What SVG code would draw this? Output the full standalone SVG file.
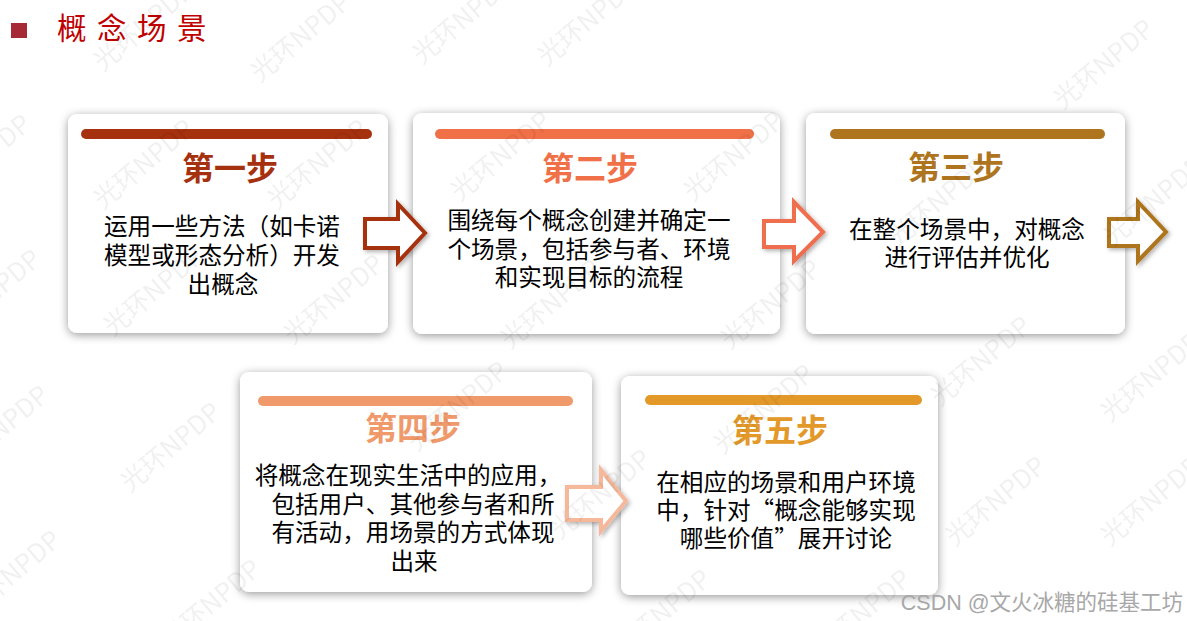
<svg xmlns="http://www.w3.org/2000/svg" width="1187" height="621" viewBox="0 0 1187 621">
<style>
.card{fill:#fff;filter:url(#sh);}
.bar{stroke-width:10;stroke-linecap:round;fill:none;}
.ttl{font-family:"Noto Sans CJK SC","Noto Sans",sans-serif;font-size:32px;font-weight:bold;text-anchor:middle;}
.body{font-family:"Noto Sans CJK SC","Noto Sans",sans-serif;font-size:23.6px;fill:#000;text-anchor:middle;}
.arr{fill:#fff;stroke-width:4;stroke-linejoin:miter;filter:url(#ash);}
.wm{font-family:"Noto Sans CJK SC","Noto Sans",sans-serif;font-size:26px;fill:#000;opacity:0.055;}
</style>
<defs>
<filter id="sh" x="-10%" y="-10%" width="120%" height="125%">
<feDropShadow dx="0" dy="2" stdDeviation="5" flood-color="#000" flood-opacity="0.4"/>
</filter>
<filter id="ash" x="-20%" y="-20%" width="150%" height="150%">
<feDropShadow dx="2" dy="2" stdDeviation="2" flood-color="#000" flood-opacity="0.3"/>
</filter>
</defs>
<rect width="1187" height="621" fill="#fff"/>
<g id="header">
<rect x="11" y="23" width="16" height="15" fill="#A52A35"/>
<text x="57 97 137 177" y="39" font-family="'Noto Sans CJK SC','Noto Sans',sans-serif" font-size="29.5" fill="#C00000">概念场景</text>
</g>
<g id="step1">
<rect class="card" x="68" y="114" width="320" height="219" rx="9"/>
<line class="bar" x1="86" y1="134" x2="367" y2="134" stroke="#A5310F"/>
<text class="ttl" x="230" y="180" fill="#A5310F">第一步</text>
<text class="body" x="222" y="235">运用一些方法（如卡诺</text>
<text class="body" x="222" y="264">模型或形态分析）开发</text>
<text class="body" x="223" y="293">出概念</text>
</g>
<g id="step2">
<rect class="card" x="413" y="113" width="367" height="221" rx="9"/>
<line class="bar" x1="440" y1="134" x2="749" y2="134" stroke="#F07048"/>
<text class="ttl" x="590" y="180" fill="#F07048">第二步</text>
<text class="body" x="589" y="229">围绕每个概念创建并确定一</text>
<text class="body" x="589" y="258">个场景，包括参与者、环境</text>
<text class="body" x="589" y="286">和实现目标的流程</text>
</g>
<g id="step3">
<rect class="card" x="806" y="113" width="319" height="221" rx="9"/>
<line class="bar" x1="835" y1="134" x2="1100" y2="134" stroke="#AE751E"/>
<text class="ttl" x="956" y="179" fill="#AE751E">第三步</text>
<text class="body" x="967" y="238">在整个场景中，对概念</text>
<text class="body" x="967" y="266">进行评估并优化</text>
</g>
<g id="step4">
<rect class="card" x="240" y="372" width="352" height="220" rx="9"/>
<line class="bar" x1="263" y1="401" x2="568" y2="401" stroke="#F0996B"/>
<text class="ttl" x="413" y="440" fill="#F0996B">第四步</text>
<text class="body" x="408" y="484">将概念在现实生活中的应用，</text>
<text class="body" x="413" y="513">包括用户、其他参与者和所</text>
<text class="body" x="413" y="541">有活动，用场景的方式体现</text>
<text class="body" x="414" y="570">出来</text>
</g>
<g id="step5">
<rect class="card" x="621" y="376" width="317" height="219" rx="9"/>
<line class="bar" x1="650" y1="400" x2="917" y2="400" stroke="#E3992A"/>
<text class="ttl" x="780" y="442" fill="#E3992A">第五步</text>
<text class="body" x="786" y="491">在相应的场景和用户环境</text>
<text class="body" x="786" y="519">中，针对“概念能够实现</text>
<text class="body" x="786" y="547">哪些价值”展开讨论</text>
</g>
<g id="connectors">
<polygon class="arr" stroke="#A5310F" points="365,219 398,219 398,204 425,233 398,262 398,248 365,248"/>
<polygon class="arr" stroke="#EE6E4E" points="764,221 794,221 794,202 823,232 794,261 794,247 764,247"/>
<polygon class="arr" stroke="#AE751E" points="1109,219 1138,219 1138,202 1166,232 1138,261 1138,246 1109,246"/>
<polygon class="arr" stroke="#F5B89A" points="567,487 601,487 601,470 626,501 601,531 601,520 567,520"/>
</g>
<g id="watermark">
<text class="wm" transform="translate(103,72) rotate(-40)">光环NPDP</text>
<text class="wm" transform="translate(260,83) rotate(-40)">光环NPDP</text>
<text class="wm" transform="translate(422,65) rotate(-40)">光环NPDP</text>
<text class="wm" transform="translate(547,67) rotate(-40)">光环NPDP</text>
<text class="wm" transform="translate(1063,110) rotate(-40)">光环NPDP</text>
<text class="wm" transform="translate(-60,205) rotate(-40)">光环NPDP</text>
<text class="wm" transform="translate(103,210) rotate(-40)">光环NPDP</text>
<text class="wm" transform="translate(277,210) rotate(-40)">光环NPDP</text>
<text class="wm" transform="translate(460,202) rotate(-40)">光环NPDP</text>
<text class="wm" transform="translate(693,202) rotate(-40)">光环NPDP</text>
<text class="wm" transform="translate(897,248) rotate(-40)">光环NPDP</text>
<text class="wm" transform="translate(1113,247) rotate(-40)">光环NPDP</text>
<text class="wm" transform="translate(-50,340) rotate(-40)">光环NPDP</text>
<text class="wm" transform="translate(113,337) rotate(-40)">光环NPDP</text>
<text class="wm" transform="translate(293,345) rotate(-40)">光环NPDP</text>
<text class="wm" transform="translate(510,350) rotate(-40)">光环NPDP</text>
<text class="wm" transform="translate(730,350) rotate(-40)">光环NPDP</text>
<text class="wm" transform="translate(940,407) rotate(-40)">光环NPDP</text>
<text class="wm" transform="translate(1110,423) rotate(-40)">光环NPDP</text>
<text class="wm" transform="translate(-42,476) rotate(-40)">光环NPDP</text>
<text class="wm" transform="translate(130,493) rotate(-40)">光环NPDP</text>
<text class="wm" transform="translate(417,452) rotate(-40)">光环NPDP</text>
<text class="wm" transform="translate(560,540) rotate(-40)">光环NPDP</text>
<text class="wm" transform="translate(723,455) rotate(-40)">光环NPDP</text>
<text class="wm" transform="translate(955,547) rotate(-40)">光环NPDP</text>
<text class="wm" transform="translate(1110,547) rotate(-40)">光环NPDP</text>
<text class="wm" transform="translate(-30,621) rotate(-40)">光环NPDP</text>
<text class="wm" transform="translate(170,650) rotate(-40)">光环NPDP</text>
<text class="wm" transform="translate(620,660) rotate(-40)">光环NPDP</text>
<text class="wm" transform="translate(820,660) rotate(-40)">光环NPDP</text>
</g>
<text id="credit" x="1183" y="610" text-anchor="end" font-family="'Liberation Sans','Noto Sans CJK SC',sans-serif" font-size="21.5" fill="#A8A8A8">CSDN @文火冰糖的硅基工坊</text>
</svg>
